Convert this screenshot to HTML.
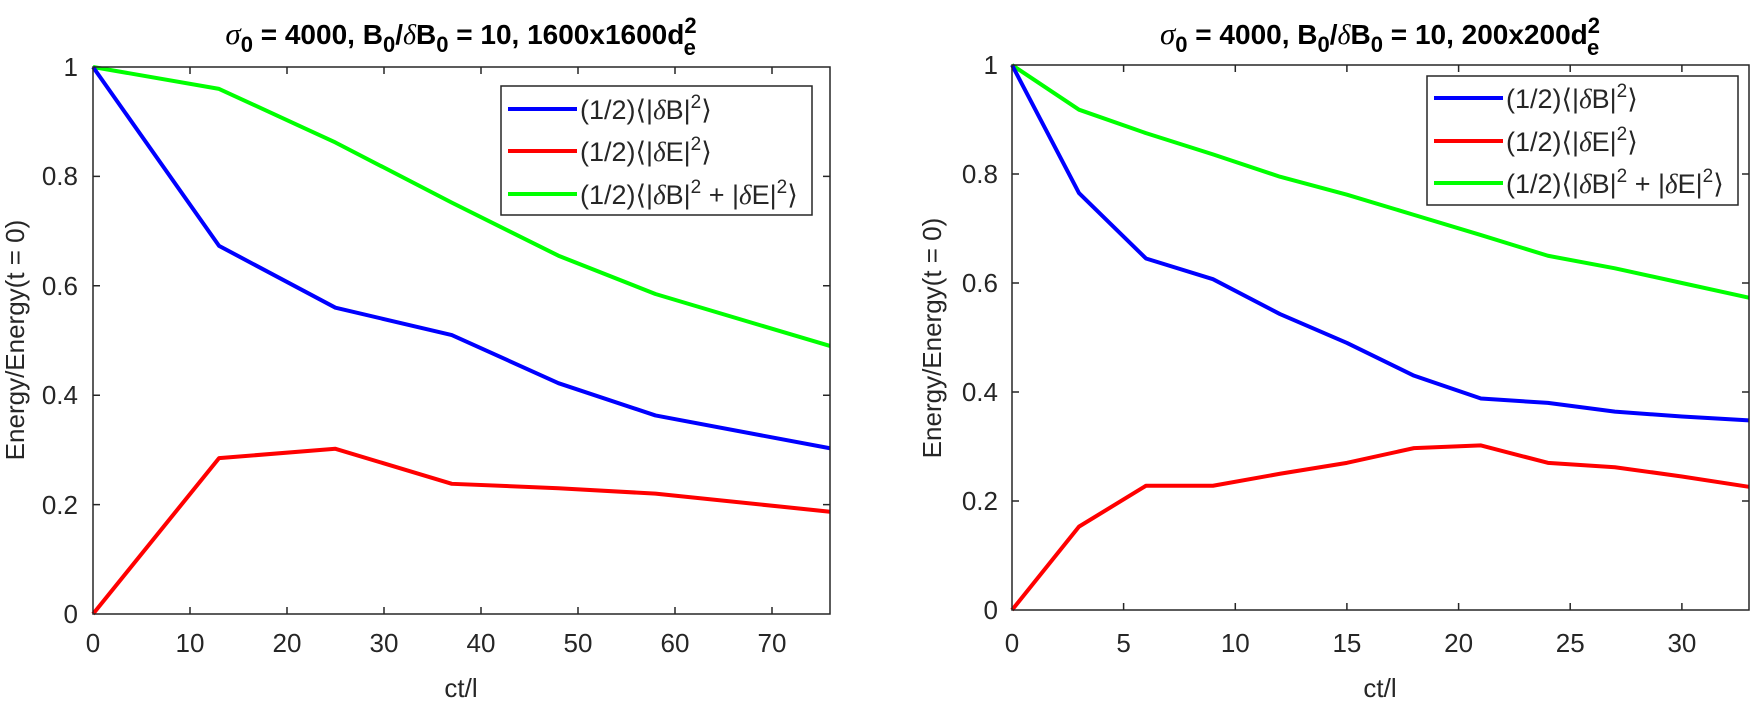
<!DOCTYPE html>
<html><head><meta charset="utf-8"><style>
html,body{margin:0;padding:0;background:#fff}
svg{display:block}
text{font-family:"Liberation Sans",Arial,sans-serif;fill:#262626}
.t{font-size:26px}
.ti{font-size:28px;font-weight:bold;fill:#000}
.lg{font-size:27px;fill:#000}
</style></head><body>
<svg width="1750" height="702" viewBox="0 0 1750 702" xmlns="http://www.w3.org/2000/svg">
<!-- LEFT PLOT -->
<g transform="matrix(9.697 0 0 -547 93 614)" fill="none" stroke-width="4" stroke-linejoin="round">
<polyline vector-effect="non-scaling-stroke" stroke="#00ff00" points="0,1 13,0.96 25,0.862 37,0.752 48,0.655 58,0.585 76,0.49"/>
<polyline vector-effect="non-scaling-stroke" stroke="#0000ff" points="0,1 13,0.673 25,0.56 37,0.51 48,0.422 58,0.363 76,0.303"/>
<polyline vector-effect="non-scaling-stroke" stroke="#ff0000" points="0,0 13,0.285 25,0.302 37,0.238 48,0.23 58,0.22 76,0.187"/>
</g>
<rect x="93" y="67" width="737" height="547" fill="none" stroke="#262626" stroke-width="1.5"/>
<g stroke="#262626" stroke-width="1.5">
<path d="M190 614v-7M287 614v-7M384 614v-7M481 614v-7M578 614v-7M675 614v-7M772 614v-7
M190 67v7M287 67v7M384 67v7M481 67v7M578 67v7M675 67v7M772 67v7
M93 504.6h7M93 395.2h7M93 285.8h7M93 176.4h7
M830 504.6h-7M830 395.2h-7M830 285.8h-7M830 176.4h-7"/>
</g>
<g class="t" text-anchor="end">
<text x="78" y="623">0</text><text x="78" y="514">0.2</text><text x="78" y="404">0.4</text>
<text x="78" y="295">0.6</text><text x="78" y="185">0.8</text><text x="78" y="76">1</text>
</g>
<g class="t" text-anchor="middle">
<text x="93" y="652">0</text><text x="190" y="652">10</text><text x="287" y="652">20</text>
<text x="384" y="652">30</text><text x="481" y="652">40</text><text x="578" y="652">50</text>
<text x="675" y="652">60</text><text x="772" y="652">70</text>
<text x="461" y="697">ct/l</text>
<text transform="translate(24 340) rotate(-90)">Energy/Energy(t = 0)</text>
</g>
<text class="ti" x="461" y="44" text-anchor="middle"><tspan font-family="Liberation Serif" font-style="italic" font-weight="normal" font-size="31">σ</tspan><tspan dy="8" font-size="22">0</tspan><tspan dy="-8"> = 4000, B</tspan><tspan dy="8" font-size="22">0</tspan><tspan dy="-8">/</tspan><tspan font-family="Liberation Serif" font-style="italic" font-weight="normal">δ</tspan><tspan>B</tspan><tspan dy="8" font-size="22">0</tspan><tspan dy="-8"> = 10, 1600x1600d</tspan><tspan dy="-11" font-size="22">2</tspan><tspan dx="-13" dy="22" font-size="22">e</tspan></text>
<rect x="501" y="86" width="311" height="129" fill="#fff" stroke="#262626" stroke-width="1.5"/>
<g stroke-width="4"><path d="M508 109h69" stroke="#0000ff"/><path d="M508 151h69" stroke="#ff0000"/><path d="M508 194h69" stroke="#00ff00"/></g>
<g class="lg">
<text x="580" y="119">(1/2)⟨|<tspan font-family="Liberation Serif" font-style="italic">δ</tspan>B|<tspan dy="-11" font-size="19">2</tspan><tspan dy="11">⟩</tspan></text>
<text x="580" y="161">(1/2)⟨|<tspan font-family="Liberation Serif" font-style="italic">δ</tspan>E|<tspan dy="-11" font-size="19">2</tspan><tspan dy="11">⟩</tspan></text>
<text x="580" y="204">(1/2)⟨|<tspan font-family="Liberation Serif" font-style="italic">δ</tspan>B|<tspan dy="-11" font-size="19">2</tspan><tspan dy="11"> + |</tspan><tspan font-family="Liberation Serif" font-style="italic">δ</tspan>E|<tspan dy="-11" font-size="19">2</tspan><tspan dy="11">⟩</tspan></text>
</g>

<!-- RIGHT PLOT -->
<g transform="matrix(22.33 0 0 -545 1012 610)" fill="none" stroke-width="4" stroke-linejoin="round">
<polyline vector-effect="non-scaling-stroke" stroke="#00ff00" points="0,1 3,0.918 6,0.875 9,0.836 12,0.795 15,0.762 18,0.725 21,0.688 24,0.65 27,0.627 30,0.6 33,0.573"/>
<polyline vector-effect="non-scaling-stroke" stroke="#0000ff" points="0,1 3,0.765 6,0.645 9,0.607 12,0.543 15,0.49 18,0.43 21,0.388 24,0.38 27,0.364 30,0.355 33,0.348"/>
<polyline vector-effect="non-scaling-stroke" stroke="#ff0000" points="0,0 3,0.153 6,0.228 9,0.228 12,0.25 15,0.27 18,0.297 21,0.302 24,0.27 27,0.262 30,0.245 33,0.226"/>
</g>
<rect x="1012" y="65" width="737" height="545" fill="none" stroke="#262626" stroke-width="1.5"/>
<g stroke="#262626" stroke-width="1.5">
<path d="M1123.6 610v-7M1235.3 610v-7M1346.9 610v-7M1458.6 610v-7M1570.2 610v-7M1681.9 610v-7
M1123.6 65v7M1235.3 65v7M1346.9 65v7M1458.6 65v7M1570.2 65v7M1681.9 65v7
M1012 501h7M1012 392h7M1012 283h7M1012 174h7
M1749 501h-7M1749 392h-7M1749 283h-7M1749 174h-7"/>
</g>
<g class="t" text-anchor="end">
<text x="998" y="619">0</text><text x="998" y="510">0.2</text><text x="998" y="401">0.4</text>
<text x="998" y="292">0.6</text><text x="998" y="183">0.8</text><text x="998" y="74">1</text>
</g>
<g class="t" text-anchor="middle">
<text x="1012" y="652">0</text><text x="1123.6" y="652">5</text><text x="1235.3" y="652">10</text>
<text x="1346.9" y="652">15</text><text x="1458.6" y="652">20</text><text x="1570.2" y="652">25</text>
<text x="1681.9" y="652">30</text>
<text x="1380" y="697">ct/l</text>
<text transform="translate(941 338) rotate(-90)">Energy/Energy(t = 0)</text>
</g>
<text class="ti" x="1380" y="44" text-anchor="middle"><tspan font-family="Liberation Serif" font-style="italic" font-weight="normal" font-size="31">σ</tspan><tspan dy="8" font-size="22">0</tspan><tspan dy="-8"> = 4000, B</tspan><tspan dy="8" font-size="22">0</tspan><tspan dy="-8">/</tspan><tspan font-family="Liberation Serif" font-style="italic" font-weight="normal">δ</tspan><tspan>B</tspan><tspan dy="8" font-size="22">0</tspan><tspan dy="-8"> = 10, 200x200d</tspan><tspan dy="-11" font-size="22">2</tspan><tspan dx="-13" dy="22" font-size="22">e</tspan></text>
<rect x="1427" y="76" width="311" height="129" fill="#fff" stroke="#262626" stroke-width="1.5"/>
<g stroke-width="4"><path d="M1434 98h69" stroke="#0000ff"/><path d="M1434 141h69" stroke="#ff0000"/><path d="M1434 183h69" stroke="#00ff00"/></g>
<g class="lg">
<text x="1506" y="108">(1/2)⟨|<tspan font-family="Liberation Serif" font-style="italic">δ</tspan>B|<tspan dy="-11" font-size="19">2</tspan><tspan dy="11">⟩</tspan></text>
<text x="1506" y="151">(1/2)⟨|<tspan font-family="Liberation Serif" font-style="italic">δ</tspan>E|<tspan dy="-11" font-size="19">2</tspan><tspan dy="11">⟩</tspan></text>
<text x="1506" y="193">(1/2)⟨|<tspan font-family="Liberation Serif" font-style="italic">δ</tspan>B|<tspan dy="-11" font-size="19">2</tspan><tspan dy="11"> + |</tspan><tspan font-family="Liberation Serif" font-style="italic">δ</tspan>E|<tspan dy="-11" font-size="19">2</tspan><tspan dy="11">⟩</tspan></text>
</g>
</svg>
</body></html>
